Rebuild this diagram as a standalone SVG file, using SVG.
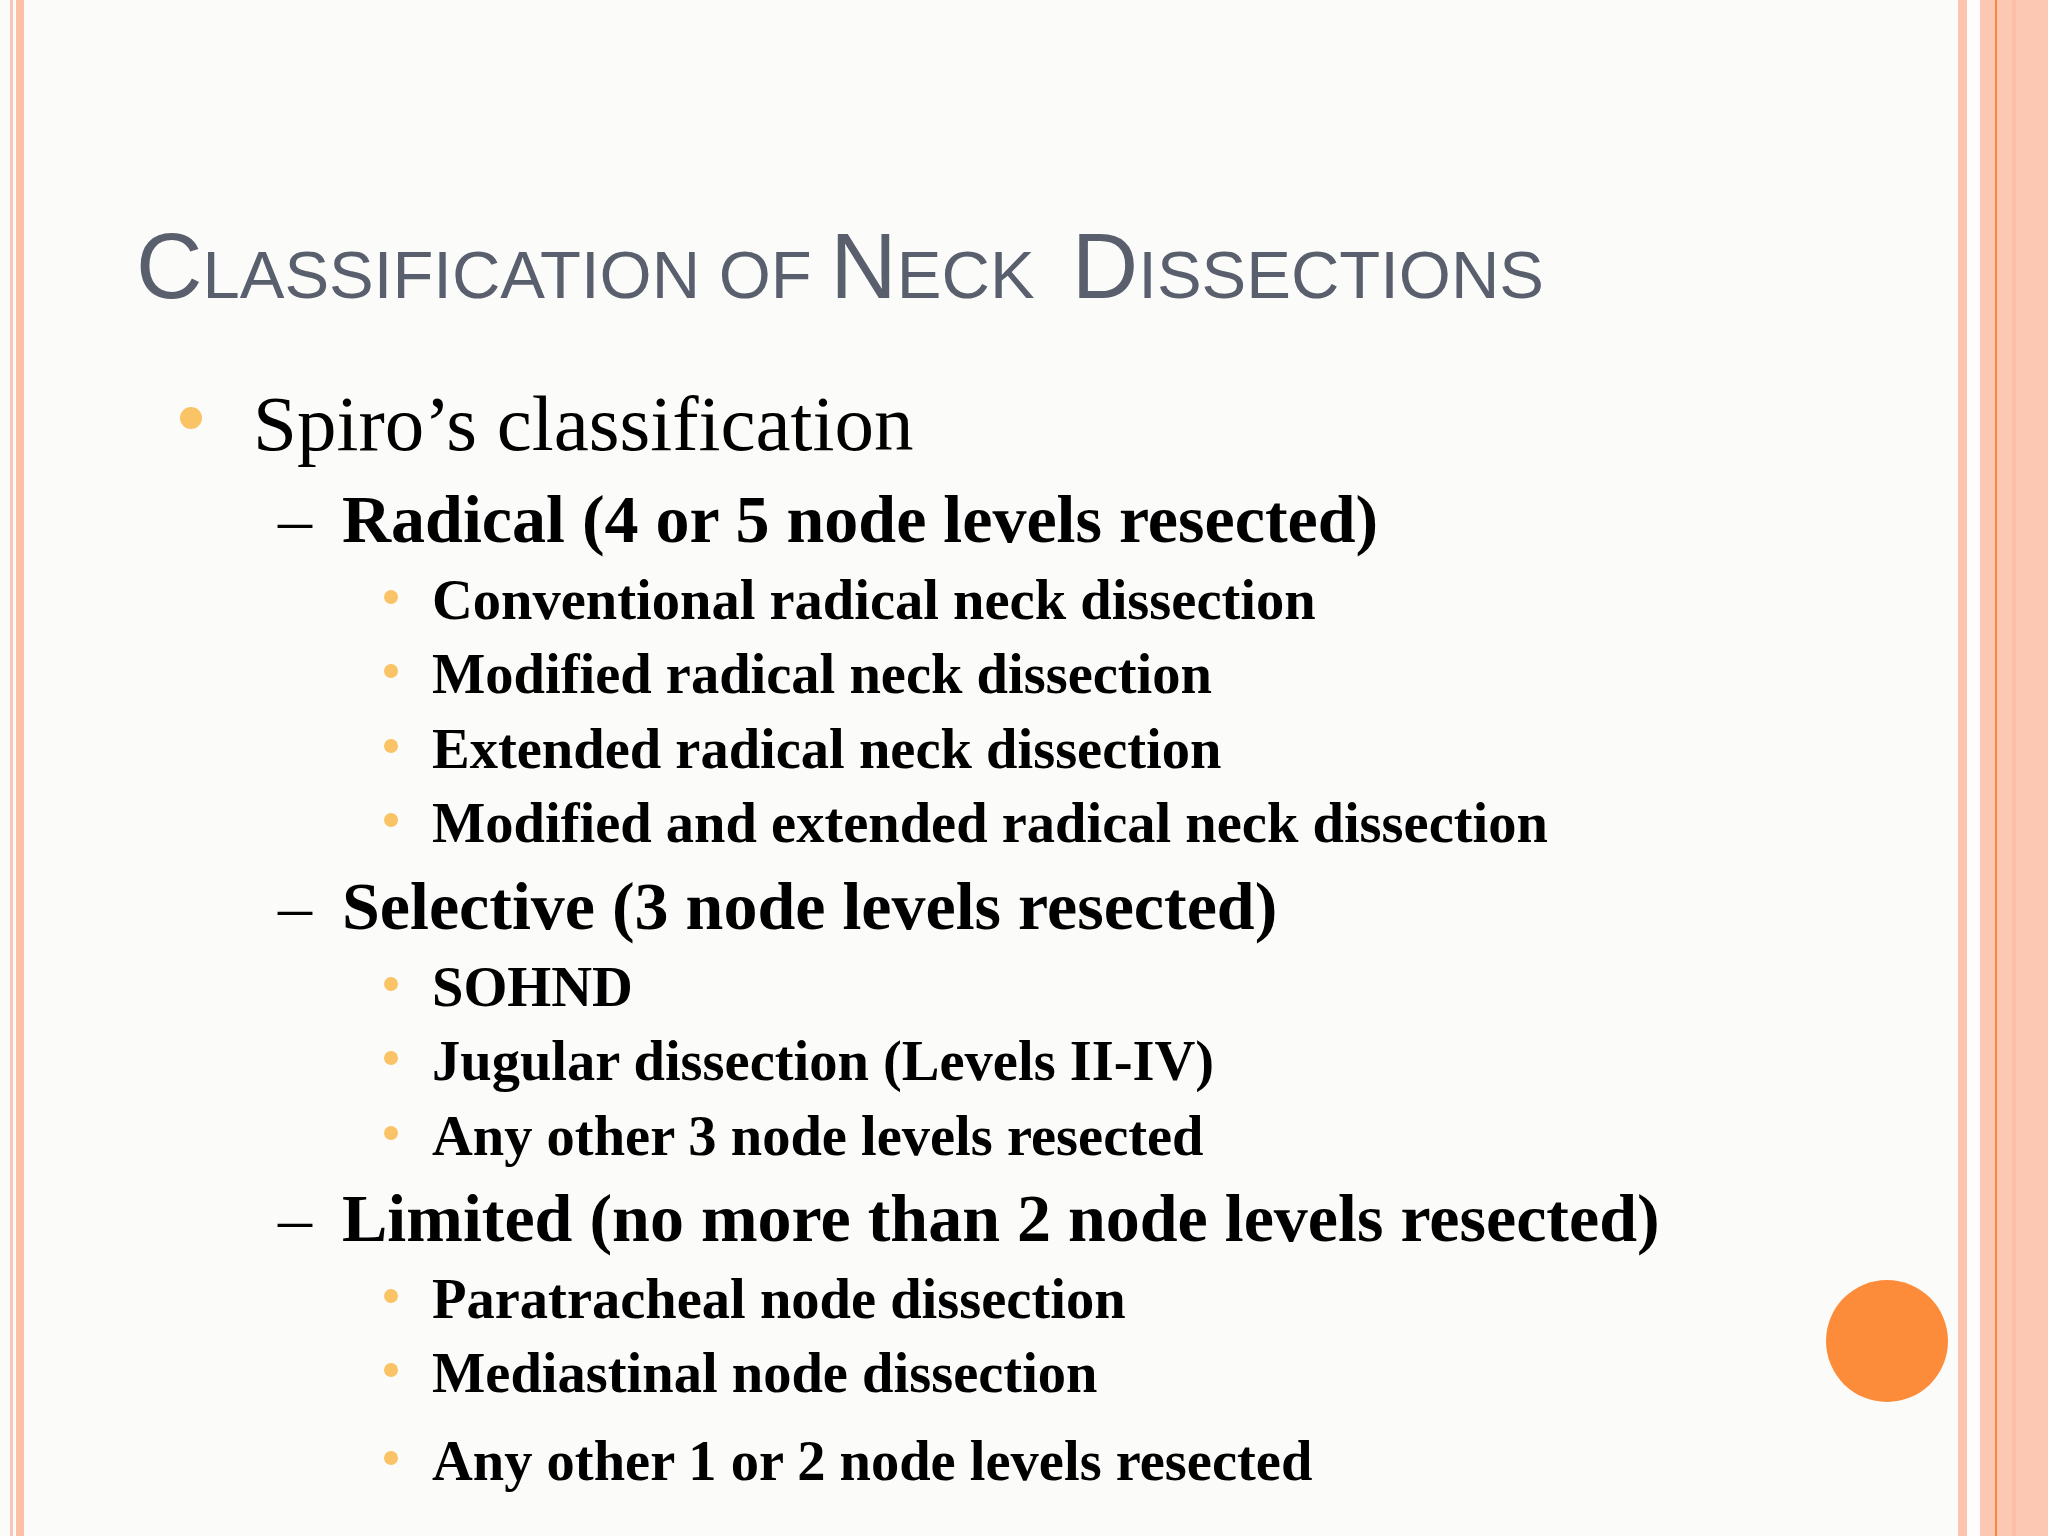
<svg xmlns="http://www.w3.org/2000/svg" width="2048" height="1536" viewBox="0 0 2048 1536">
<style>
.t{font-family:"Liberation Sans",Arial,sans-serif;fill:#5a5f6e;white-space:pre}
.b{font-family:"Liberation Serif","Times New Roman",serif;fill:#000}
.h1{font-size:68px;font-weight:bold}
.h2{font-size:56.5px;font-weight:bold}
.dash{font-size:68px;font-weight:normal}
.d{fill:#f9c366}
</style>
<rect width="2048" height="1536" fill="#fbfcfa"/>
<rect x="10" y="0" width="3" height="1536" fill="#f3c6b8"/>
<rect x="16" y="0" width="8" height="1536" fill="#fdbfa6"/>
<rect x="1958" y="0" width="9" height="1536" fill="#fdc4b0"/>
<rect x="1967" y="0" width="13" height="1536" fill="#fffcfd"/>
<rect x="1980" y="0" width="68" height="1536" fill="#fcc8b3"/>
<rect x="2012" y="0" width="4" height="1536" fill="#fbbea8"/>
<rect x="1995" y="0" width="2" height="1536" fill="#f58a3c"/>
<g id="title"><text class="t" x="136" y="298" font-size="92" xml:space="preserve">C<tspan font-size="67">LASSIFICATION OF </tspan>N<tspan font-size="67">ECK  </tspan>D<tspan font-size="67">ISSECTIONS</tspan></text></g>
<g id="bullet"><circle class="d" cx="191" cy="418" r="11"/><text class="b" x="253" y="450" font-size="79">Spiro’s classification</text></g>
<g id="radical">
<text class="b dash" x="278" y="542">–</text><text class="b h1" x="342" y="542">Radical (4 or 5 node levels resected)</text>
<circle class="d" cx="391" cy="597" r="7"/><text class="b h2" x="432" y="619">Conventional radical neck dissection</text>
<circle class="d" cx="391" cy="671" r="7"/><text class="b h2" x="432" y="693">Modified radical neck dissection</text>
<circle class="d" cx="391" cy="746" r="7"/><text class="b h2" x="432" y="768">Extended radical neck dissection</text>
<circle class="d" cx="391" cy="820" r="7"/><text class="b h2" x="432" y="842">Modified and extended radical neck dissection</text>
</g>
<g id="selective">
<text class="b dash" x="278" y="929">–</text><text class="b h1" x="342" y="929">Selective (3 node levels resected)</text>
<circle class="d" cx="391" cy="984" r="7"/><text class="b h2" x="432" y="1006">SOHND</text>
<circle class="d" cx="391" cy="1058" r="7"/><text class="b h2" x="432" y="1080">Jugular dissection (Levels II-IV)</text>
<circle class="d" cx="391" cy="1133" r="7"/><text class="b h2" x="432" y="1155">Any other 3 node levels resected</text>
</g>
<g id="limited">
<text class="b dash" x="278" y="1241">–</text><text class="b h1" x="342" y="1241">Limited (no more than 2 node levels resected)</text>
<circle class="d" cx="391" cy="1296" r="7"/><text class="b h2" x="432" y="1318">Paratracheal node dissection</text>
<circle class="d" cx="391" cy="1370" r="7"/><text class="b h2" x="432" y="1392">Mediastinal node dissection</text>
<circle class="d" cx="391" cy="1458" r="7"/><text class="b h2" x="432" y="1480">Any other 1 or 2 node levels resected</text>
</g>
<circle id="dot" cx="1887" cy="1341" r="61" fill="#fd8c3a"/>
</svg>
